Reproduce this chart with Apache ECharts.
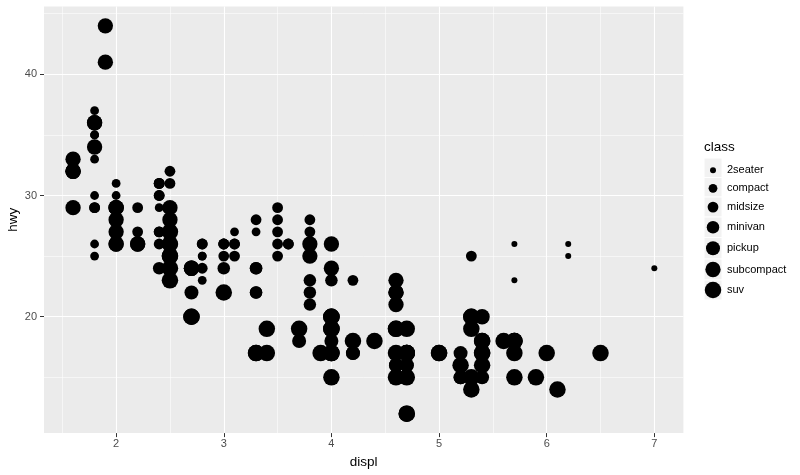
<!DOCTYPE html>
<html>
<head>
<meta charset="utf-8">
<script src="https://cdn.jsdelivr.net/npm/echarts@6/dist/echarts.min.js"></script>
<style>html,body{margin:0;padding:0;background:#fff;}#c{width:800px;height:475px;}</style>
</head>
<body>
<div id="c"></div>
<script>
// ---- data: mpg, displ (x) vs hwy (y), by class ----
const classes = ['2seater','compact','midsize','minivan','pickup','subcompact','suv'];

const seater2Displ = [5.7,5.7,6.2,6.2,7.0];
const seater2Hwy   = [26,23,26,25,24];

const compactDispl = [1.8,1.8,2.0,2.0,2.8,2.8,3.1,1.8,1.8,2.0,2.0,2.8,2.8,3.1,3.1,
  2.4,2.4, 2.5,2.5,2.5,2.5, 2.2,2.2,2.4,2.4,3.0,3.0,3.3, 1.8,1.8,1.8,1.8,1.8,
  2.0,2.0,2.0,2.0,2.8, 1.9,2.0,2.0,2.0,2.0,2.5,2.5,2.8,2.8];
const compactHwy = [29,29,31,30,26,26,27,26,25,28,27,25,25,25,25,
  29,27, 25,27,25,27, 27,29,31,31,26,26,27, 30,33,35,37,35,
  29,26,29,29,24, 44,29,26,29,29,29,29,23,24];

const midsizeDispl = [2.8,3.1,4.2, 2.4,2.4,3.1,3.5,3.6, 2.4,2.4,2.4,2.4,2.5,2.5,3.3,
  2.5,2.5,3.5,3.5, 3.0,3.0,3.5, 3.1,3.8,3.8,3.8,5.3, 2.2,2.2,2.4,2.4,3.0,3.0,3.5,
  1.8,1.8,2.0,2.0,2.8,2.8,3.6];
const midsizeHwy = [24,25,23, 27,30,26,29,26, 26,27,30,31,26,26,28,
  31,32,27,26, 26,25,25, 26,26,27,28,25, 29,27,31,31,26,26,28,
  29,29,28,29,26,26,26];

const minivanDispl = [2.4,3.0,3.3,3.3,3.3,3.3,3.3,3.8,3.8,3.8,4.0];
const minivanHwy   = [24,24,22,22,24,24,17,22,21,23,23];

const pickupDispl = [3.7,3.7,3.9,3.9,4.7,4.7,4.7,5.2,5.2,
  4.7,4.7,4.7,4.7,4.7,4.7,5.2,5.2,5.7,5.9,
  4.2,4.2,4.6,4.6,4.6,5.4,5.4, 2.7,2.7,2.7,3.4,3.4,4.0,4.0];
const pickupHwy = [19,18,17,17,19,19,12,17,15,
  16,12,17,17,16,12,15,16,17,15,
  17,17,16,16,17,15,17, 20,20,22,17,19,18,20];

const subcompactDispl = [3.8,3.8,4.0,4.0,4.6,4.6,4.6,4.6,5.4,
  1.6,1.6,1.6,1.6,1.6,1.8,1.8,1.8,2.0, 2.0,2.0,2.0,2.0,2.7,2.7,2.7,
  2.2,2.2,2.5,2.5, 1.9,1.9,2.0,2.0,2.5,2.5];
const subcompactHwy = [26,25,26,24,21,22,23,22,20,
  33,32,32,29,32,34,36,36,29, 26,29,28,27,24,24,24,
  26,26,26,26, 44,41,29,26,28,29];

const suvDispl = [5.3,5.3,5.3,5.7,6.0, 5.3,5.3,5.7,6.5, 3.9,4.7,4.7,4.7,5.2,5.7,5.9,
  4.6,5.4,5.4, 4.0,4.0,4.0,4.0,4.6,5.0, 3.0,3.7,4.0,4.7,4.7,4.7,5.7,6.1,
  4.0,4.2,4.4,4.6, 5.4,5.4,5.4, 4.0,4.0,4.6,5.0, 3.3,3.3,4.0,5.6,
  2.5,2.5,2.5,2.5,2.5,2.5, 2.7,2.7,3.4,3.4,4.0,4.7, 4.7,5.7];
const suvHwy = [20,15,20,17,17, 19,14,15,17, 17,17,12,17,16,18,15,
  17,17,18, 17,19,17,19,19,17, 22,19,20,17,12,19,18,14,
  15,18,18,15, 17,16,18, 17,19,19,17, 17,17,20,18,
  25,24,27,25,26,23, 20,20,19,17,20,17, 15,18];

const classDispl = [seater2Displ, compactDispl, midsizeDispl, minivanDispl, pickupDispl, subcompactDispl, suvDispl];
const classHwy   = [seater2Hwy, compactHwy, midsizeHwy, minivanHwy, pickupHwy, subcompactHwy, suvHwy];

// ---- tick labels / breaks ----
const xMajor = [2,3,4,5,6,7];
const xMinor = [1.5,2.5,3.5,4.5,5.5,6.5];
const yMajor = [20,30,40];
const yMinor = [15,25,35,45];

// ---- style ----
const pointSize = [6, 8.8, 10.8, 12.5, 14, 15.3, 16.5];
const keyBounds = [158, 177.5, 197, 217, 237.5, 259, 280, 300];
const FONT = 'Liberation Sans, Arial, sans-serif';

const series = classes.map((c, i) => ({
  name: c,
  type: 'scatter',
  xAxisIndex: 0, yAxisIndex: 0,
  symbol: 'circle',
  symbolSize: pointSize[i],
  itemStyle: { color: '#000000', opacity: 1, borderWidth: 0 },
  emphasis: { disabled: true },
  data: classDispl[i].map((x, j) => [x, classHwy[i][j]]),
  z: 3
}));

const keyX = 713;
const legends = classes.map((c, i) => {
  const d = pointSize[i];
  const cy = (keyBounds[i] + keyBounds[i+1]) / 2;
  return {
    data: [{ name: c, icon: 'circle' }],
    orient: 'vertical',
    left: keyX - d / 2,
    top: cy - d / 2,
    itemWidth: d,
    itemHeight: d,
    padding: 0,
    selectedMode: false,
    textStyle: { fontFamily: FONT, fontSize: 11, color: '#000000', padding: [0, 0, 0, 9 - d / 2] }
  };
});

const keyRects = classes.map((c, i) => ({
  type: 'rect',
  shape: { x: 704, y: keyBounds[i], width: 18, height: keyBounds[i+1] - keyBounds[i] },
  style: { fill: '#F2F2F2', stroke: '#FFFFFF', lineWidth: 1 },
  z: 0
}));

const chart = echarts.init(document.getElementById('c'), null, { renderer: 'canvas' });
chart.setOption({
  animation: false,
  backgroundColor: '#FFFFFF',
  textStyle: { fontFamily: FONT },
  title: {
    text: 'class', left: 704, top: 140, padding: 0,
    textStyle: { fontFamily: FONT, fontSize: 13.5, fontWeight: 'normal', color: '#000000' }
  },
  grid: {
    left: 44, right: 116.6, top: 6.4, bottom: 41.9,
    show: true, backgroundColor: '#EBEBEB', borderWidth: 0,
    containLabel: false, outerBoundsMode: 'none'
  },
  xAxis: [
    {
      type: 'value', min: 1.33, max: 7.27, position: 'bottom',
      name: 'displ', nameLocation: 'middle', nameGap: 22, nameMoveOverlap: false,
      nameTextStyle: { fontFamily: FONT, fontSize: 13.5, color: '#000000' },
      axisLine: { show: false },
      axisTick: { show: true, length: 4, customValues: xMajor, lineStyle: { color: '#333333', width: 1 } },
      axisLabel: { customValues: xMajor, margin: 5, fontFamily: FONT, fontSize: 11, color: '#4D4D4D' },
      splitLine: { show: true, lineStyle: { color: '#FFFFFF', width: 1.1 } }
    },
    {
      type: 'value', min: 1.33, max: 7.27, position: 'top',
      axisLine: { show: false },
      axisTick: { show: false, customValues: xMinor },
      axisLabel: { show: false, customValues: xMinor },
      splitLine: { show: true, lineStyle: { color: '#FFFFFF', width: 0.55 } }
    }
  ],
  yAxis: [
    {
      type: 'value', min: 10.4, max: 45.6, position: 'left',
      name: 'hwy', nameLocation: 'middle', nameGap: 24, nameRotate: 90, nameMoveOverlap: false,
      nameTextStyle: { fontFamily: FONT, fontSize: 13.5, color: '#000000' },
      axisLine: { show: false },
      axisTick: { show: true, length: 4, customValues: yMajor, lineStyle: { color: '#333333', width: 1 } },
      axisLabel: { customValues: yMajor, margin: 7, fontFamily: FONT, fontSize: 11, color: '#4D4D4D' },
      splitLine: { show: true, lineStyle: { color: '#FFFFFF', width: 1.1 } }
    },
    {
      type: 'value', min: 10.4, max: 45.6, position: 'right',
      axisLine: { show: false },
      axisTick: { show: false, customValues: yMinor },
      axisLabel: { show: false, customValues: yMinor },
      splitLine: { show: true, lineStyle: { color: '#FFFFFF', width: 0.55 } }
    }
  ],
  legend: legends,
  graphic: keyRects,
  series: series
});
</script>
</body>
</html>
